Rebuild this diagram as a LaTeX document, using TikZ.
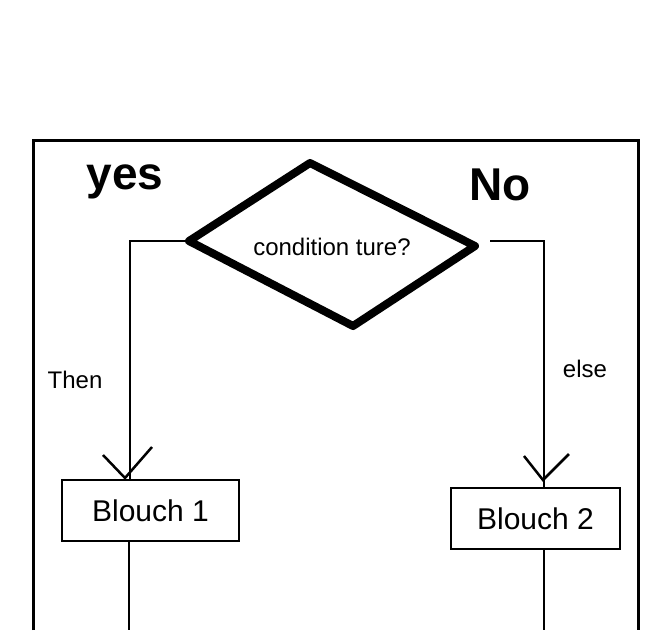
\documentclass[tikz,border=0pt]{standalone}
\usepackage{fontspec}
\setmainfont{Liberation Sans}
\usetikzlibrary{positioning}
\tikzset{
  blk/.style={draw,line width=2.5pt,minimum height=61pt,inner sep=0pt,font=\fontsize{30}{34}\selectfont},
  lbl/.style={font=\fontsize{24}{28}\selectfont},
  big/.style={font=\bfseries\fontsize{46}{50}\selectfont},
  wire/.style={line width=2.5pt},
}
\begin{document}
\begin{tikzpicture}[x=1pt,y=-1pt]
\useasboundingbox (0,0) rectangle (654,630);
\draw[line width=3pt] (33,630) -- (33,140) -- (638,140) -- (638,630);
% decision
\draw[line width=8pt,line join=round] (310,163) -- (475,246) -- (353,326) -- (189,241) -- cycle;
\node[font=\fontsize{24}{28}\selectfont] (cond) at (332,247) {condition ture?};
\node[big] (yes) at (125,182) {yes};
\node[big] (no) at (500,185) {No};
\coordinate (dl) at (185,241);
\coordinate (dr) at (490,241);
% blocks
\node[blk,minimum width=177pt] (b1) at (150.5,510.5) {Blouch 1};
\node[blk,minimum width=169pt] (b2) at (535.5,518.5) {Blouch 2};
\node[lbl] (then) at (75,380) {Then};
\node[lbl] (else) at (585,369) {else};
\draw[wire] (dl) -- (130,241) -- (130,480);
\draw[wire] (dr) -- (544,241) -- (544,488);
\draw[wire] (103,455) -- (125,478) -- (152,447);
\draw[wire] (524,456) -- (543,480) -- (569,454);
\coordinate (e1) at (129,630);
\coordinate (e2) at (544,630);
\draw[wire] (b1.south -| e1) -- (e1);
\draw[wire] (b2.south -| e2) -- (e2);
\end{tikzpicture}
\end{document}
